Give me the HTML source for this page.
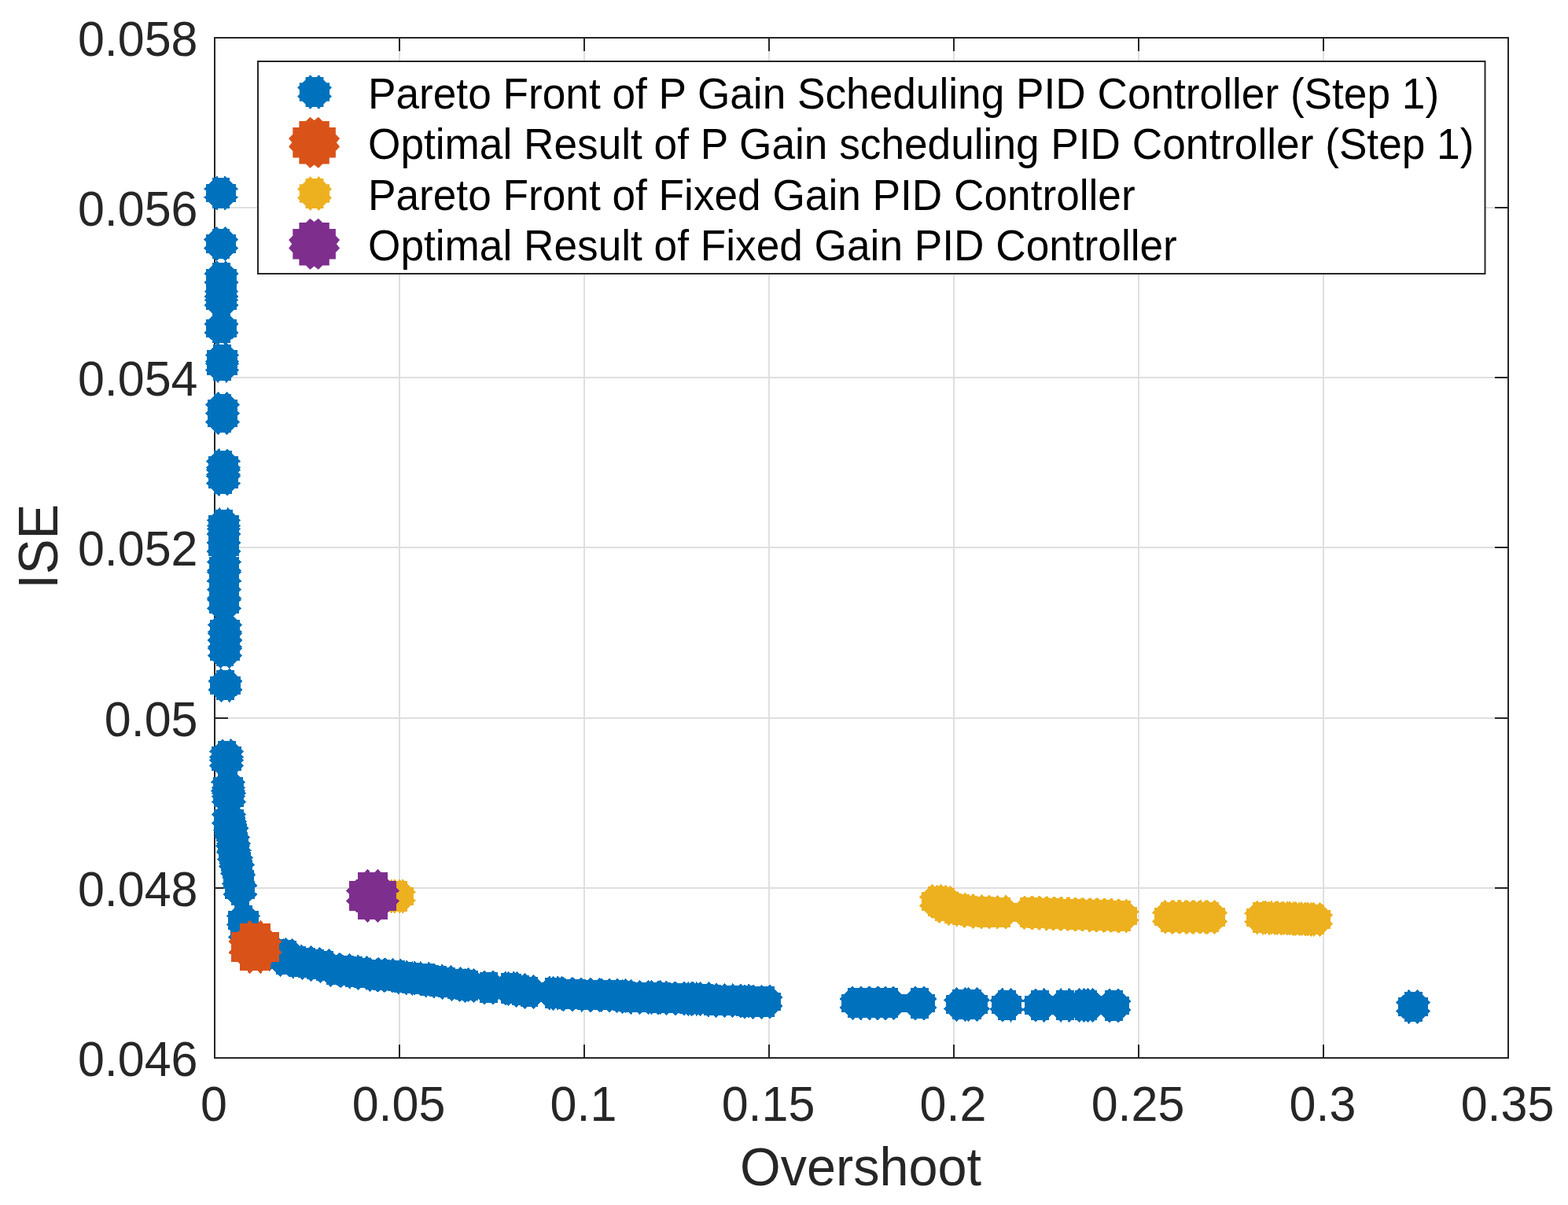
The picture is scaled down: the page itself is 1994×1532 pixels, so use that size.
<!DOCTYPE html>
<html><head><meta charset="utf-8"><title>Pareto Front</title>
<style>html,body{margin:0;padding:0;background:#fff;}svg{display:block;}</style>
</head><body>
<svg width="1994" height="1532" viewBox="0 0 1994 1532">
<defs>
<path id="ms" d="M0.00 -19.05 L2.86 -19.05 L5.28 -22.00 L7.92 -19.05 L11.44 -19.05 L11.44 -15.62 L15.40 -11.79 L19.14 -11.79 L19.14 -8.25 L22.00 -5.39 L19.14 -2.95 L19.14 0.00 L19.14 2.95 L22.00 5.39 L19.14 8.25 L19.14 11.79 L15.40 11.79 L11.44 15.62 L11.44 19.05 L7.92 19.05 L5.28 22.00 L2.86 19.05 L0.00 19.05 L-2.86 19.05 L-5.28 22.00 L-7.92 19.05 L-11.44 19.05 L-11.44 15.62 L-15.40 11.79 L-19.14 11.79 L-19.14 8.25 L-22.00 5.39 L-19.14 2.95 L-19.14 0.00 L-19.14 -2.95 L-22.00 -5.39 L-19.14 -8.25 L-19.14 -11.79 L-15.40 -11.79 L-11.44 -15.62 L-11.44 -19.05 L-7.92 -19.05 L-5.28 -22.00 L-2.86 -19.05Z"/>
<path id="ml" d="M0.00 -30.26 L3.23 -30.26 L6.63 -34.00 L10.20 -30.26 L19.31 -30.26 L19.31 -21.49 L21.76 -19.31 L30.26 -19.31 L30.26 -10.20 L34.00 -6.63 L30.26 -3.23 L30.26 0.00 L30.26 3.23 L34.00 6.63 L30.26 10.20 L30.26 19.31 L21.76 19.31 L19.31 21.49 L19.31 30.26 L10.20 30.26 L6.63 34.00 L3.23 30.26 L0.00 30.26 L-3.23 30.26 L-6.63 34.00 L-10.20 30.26 L-19.31 30.26 L-19.31 21.49 L-21.76 19.31 L-30.26 19.31 L-30.26 10.20 L-34.00 6.63 L-30.26 3.23 L-30.26 0.00 L-30.26 -3.23 L-34.00 -6.63 L-30.26 -10.20 L-30.26 -19.31 L-21.76 -19.31 L-19.31 -21.49 L-19.31 -30.26 L-10.20 -30.26 L-6.63 -34.00 L-3.23 -30.26Z"/>
<path id="mg" d="M0.00 -28.31 L5.30 -32.50 L10.60 -27.30 L19.21 -27.30 L19.21 -19.21 L27.30 -19.21 L27.30 -10.60 L32.50 -5.30 L28.31 0.00 L32.50 5.30 L27.30 10.60 L27.30 19.21 L19.21 19.21 L19.21 27.30 L10.60 27.30 L5.30 32.50 L0.00 28.31 L-5.30 32.50 L-10.60 27.30 L-19.21 27.30 L-19.21 19.21 L-27.30 19.21 L-27.30 10.60 L-32.50 5.30 L-28.31 0.00 L-32.50 -5.30 L-27.30 -10.60 L-27.30 -19.21 L-19.21 -19.21 L-19.21 -27.30 L-10.60 -27.30 L-5.30 -32.50Z"/>
</defs>
<rect x="0" y="0" width="1994" height="1532" fill="#ffffff"/>
<path d="M508.0 48.0V1345.0 M743.0 48.0V1345.0 M978.0 48.0V1345.0 M1213.0 48.0V1345.0 M1448.0 48.0V1345.0 M1683.0 48.0V1345.0 M273.0 264.0H1918.0 M273.0 480.0H1918.0 M273.0 696.0H1918.0 M273.0 913.0H1918.0 M273.0 1129.0H1918.0" stroke="#262626" stroke-opacity="0.15" stroke-width="2" fill="none" shape-rendering="crispEdges"/>
<path d="M508.0 1345.0v-17 M508.0 48.0v17 M743.0 1345.0v-17 M743.0 48.0v17 M978.0 1345.0v-17 M978.0 48.0v17 M1213.0 1345.0v-17 M1213.0 48.0v17 M1448.0 1345.0v-17 M1448.0 48.0v17 M1683.0 1345.0v-17 M1683.0 48.0v17 M273.0 264.0h17 M1918.0 264.0h-17 M273.0 480.0h17 M1918.0 480.0h-17 M273.0 696.0h17 M1918.0 696.0h-17 M273.0 913.0h17 M1918.0 913.0h-17 M273.0 1129.0h17 M1918.0 1129.0h-17" stroke="#262626" stroke-width="2" fill="none" shape-rendering="crispEdges"/>
<rect x="273.0" y="48.0" width="1645.0" height="1297.0" stroke="#262626" stroke-width="2" fill="none" shape-rendering="crispEdges"/>
<g fill="#0072BD" shape-rendering="crispEdges"><use href="#ms" x="281.0" y="245.5"/><use href="#ms" x="281.0" y="310.0"/><use href="#ms" x="281.5" y="353.5"/><use href="#ms" x="281.5" y="365.0"/><use href="#ms" x="281.5" y="376.0"/><use href="#ms" x="281.5" y="382.5"/><use href="#ms" x="281.5" y="417.4"/><use href="#ms" x="282.5" y="457.0"/><use href="#ms" x="282.5" y="465.0"/><use href="#ms" x="283.0" y="520.0"/><use href="#ms" x="283.0" y="531.0"/><use href="#ms" x="283.7" y="592.0"/><use href="#ms" x="283.7" y="600.0"/><use href="#ms" x="283.7" y="609.0"/><use href="#ms" x="284.5" y="667.0"/><use href="#ms" x="284.5" y="674.0"/><use href="#ms" x="284.5" y="684.0"/><use href="#ms" x="284.5" y="695.5"/><use href="#ms" x="285.0" y="720.0"/><use href="#ms" x="285.0" y="733.0"/><use href="#ms" x="285.0" y="744.5"/><use href="#ms" x="285.0" y="755.0"/><use href="#ms" x="285.0" y="768.0"/><use href="#ms" x="286.0" y="800.0"/><use href="#ms" x="286.0" y="809.0"/><use href="#ms" x="286.0" y="819.0"/><use href="#ms" x="286.0" y="828.0"/><use href="#ms" x="286.6" y="871.3"/><use href="#ms" x="288.3" y="961.0"/><use href="#ms" x="288.3" y="968.0"/><use href="#ms" x="290.3" y="1000.0"/><use href="#ms" x="290.5" y="1007.0"/><use href="#ms" x="291.0" y="1014.0"/><use href="#ms" x="291.0" y="1041.0"/><use href="#ms" x="292.5" y="1050.0"/><use href="#ms" x="294.6" y="1058.6"/><use href="#ms" x="296.0" y="1070.0"/><use href="#ms" x="297.0" y="1078.0"/><use href="#ms" x="297.8" y="1086.8"/><use href="#ms" x="300.0" y="1096.0"/><use href="#ms" x="302.0" y="1105.0"/><use href="#ms" x="303.5" y="1118.0"/><use href="#ms" x="305.2" y="1131.5"/><use href="#ms" x="309.5" y="1170.0"/><use href="#ms" x="312.0" y="1186.0"/><use href="#ms" x="316.0" y="1197.0"/><use href="#ms" x="348.0" y="1213.0"/><use href="#ms" x="358.0" y="1214.0"/><use href="#ms" x="362.0" y="1220.0"/><use href="#ms" x="366.0" y="1215.0"/><use href="#ms" x="378.0" y="1222.5"/><use href="#ms" x="390.0" y="1224.0"/><use href="#ms" x="401.0" y="1226.0"/><use href="#ms" x="413.0" y="1228.0"/><use href="#ms" x="426.0" y="1233.0"/><use href="#ms" x="439.0" y="1234.0"/><use href="#ms" x="450.0" y="1235.5"/><use href="#ms" x="461.0" y="1237.0"/><use href="#ms" x="476.0" y="1239.0"/><use href="#ms" x="485.0" y="1239.5"/><use href="#ms" x="494.0" y="1240.0"/><use href="#ms" x="504.0" y="1240.5"/><use href="#ms" x="512.0" y="1242.5"/><use href="#ms" x="522.0" y="1243.5"/><use href="#ms" x="529.5" y="1244.0"/><use href="#ms" x="540.0" y="1244.5"/><use href="#ms" x="547.0" y="1246.5"/><use href="#ms" x="557.0" y="1247.5"/><use href="#ms" x="568.0" y="1249.0"/><use href="#ms" x="580.0" y="1251.0"/><use href="#ms" x="590.0" y="1252.0"/><use href="#ms" x="597.0" y="1253.0"/><use href="#ms" x="621.5" y="1255.5"/><use href="#ms" x="648.0" y="1256.5"/><use href="#ms" x="652.0" y="1257.0"/><use href="#ms" x="662.0" y="1259.0"/><use href="#ms" x="673.0" y="1261.0"/><use href="#ms" x="704.0" y="1262.5"/><use href="#ms" x="709.0" y="1263.0"/><use href="#ms" x="722.0" y="1264.0"/><use href="#ms" x="734.0" y="1264.3"/><use href="#ms" x="745.0" y="1264.8"/><use href="#ms" x="757.0" y="1265.0"/><use href="#ms" x="770.0" y="1265.3"/><use href="#ms" x="780.0" y="1265.3"/><use href="#ms" x="790.0" y="1266.0"/><use href="#ms" x="797.0" y="1267.0"/><use href="#ms" x="807.7" y="1268.0"/><use href="#ms" x="819.0" y="1268.0"/><use href="#ms" x="834.0" y="1268.0"/><use href="#ms" x="842.0" y="1268.5"/><use href="#ms" x="853.0" y="1269.3"/><use href="#ms" x="864.6" y="1269.3"/><use href="#ms" x="875.5" y="1269.5"/><use href="#ms" x="880.5" y="1270.0"/><use href="#ms" x="885.0" y="1270.0"/><use href="#ms" x="896.0" y="1270.0"/><use href="#ms" x="906.0" y="1271.5"/><use href="#ms" x="916.0" y="1272.0"/><use href="#ms" x="926.5" y="1272.0"/><use href="#ms" x="937.0" y="1272.3"/><use href="#ms" x="947.0" y="1272.5"/><use href="#ms" x="952.5" y="1273.5"/><use href="#ms" x="963.0" y="1274.0"/><use href="#ms" x="973.8" y="1273.5"/><use href="#ms" x="1089.6" y="1275.3"/><use href="#ms" x="1100.0" y="1275.3"/><use href="#ms" x="1111.5" y="1275.3"/><use href="#ms" x="1121.0" y="1275.3"/><use href="#ms" x="1131.0" y="1275.3"/><use href="#ms" x="1169.5" y="1275.5"/><use href="#ms" x="1222.0" y="1277.0"/><use href="#ms" x="1237.0" y="1277.0"/><use href="#ms" x="1280.2" y="1277.6"/><use href="#ms" x="1322.3" y="1278.0"/><use href="#ms" x="1354.4" y="1278.0"/><use href="#ms" x="1378.0" y="1278.0"/><use href="#ms" x="1384.0" y="1278.0"/><use href="#ms" x="1416.5" y="1278.5"/><use href="#ms" x="1797.1" y="1280.0"/></g>
<g fill="#D95319" shape-rendering="crispEdges"><use href="#ml" x="324.5" y="1204.0"/></g>
<g fill="#EDB120" shape-rendering="crispEdges"><use href="#ms" x="503.0" y="1139.5"/><use href="#ms" x="507.0" y="1139.5"/><use href="#ms" x="1191.0" y="1146.0"/><use href="#ms" x="1197.0" y="1147.0"/><use href="#ms" x="1203.0" y="1148.0"/><use href="#ms" x="1200.0" y="1152.0"/><use href="#ms" x="1212.0" y="1155.0"/><use href="#ms" x="1222.0" y="1156.5"/><use href="#ms" x="1232.0" y="1158.0"/><use href="#ms" x="1243.0" y="1159.0"/><use href="#ms" x="1253.0" y="1159.5"/><use href="#ms" x="1263.0" y="1159.6"/><use href="#ms" x="1273.7" y="1159.6"/><use href="#ms" x="1308.0" y="1160.3"/><use href="#ms" x="1317.2" y="1160.6"/><use href="#ms" x="1326.3" y="1160.9"/><use href="#ms" x="1335.5" y="1161.3"/><use href="#ms" x="1344.6" y="1161.6"/><use href="#ms" x="1353.8" y="1161.9"/><use href="#ms" x="1362.9" y="1162.2"/><use href="#ms" x="1372.1" y="1162.6"/><use href="#ms" x="1381.2" y="1162.9"/><use href="#ms" x="1390.4" y="1163.2"/><use href="#ms" x="1399.5" y="1163.5"/><use href="#ms" x="1408.7" y="1163.9"/><use href="#ms" x="1417.8" y="1164.2"/><use href="#ms" x="1427.0" y="1164.5"/><use href="#ms" x="1487.0" y="1165.7"/><use href="#ms" x="1495.7" y="1165.8"/><use href="#ms" x="1504.3" y="1165.8"/><use href="#ms" x="1513.0" y="1165.8"/><use href="#ms" x="1521.7" y="1165.9"/><use href="#ms" x="1530.3" y="1166.0"/><use href="#ms" x="1539.0" y="1166.0"/><use href="#ms" x="1604.0" y="1166.5"/><use href="#ms" x="1611.7" y="1166.8"/><use href="#ms" x="1619.3" y="1167.1"/><use href="#ms" x="1627.0" y="1167.3"/><use href="#ms" x="1634.7" y="1167.6"/><use href="#ms" x="1642.3" y="1167.9"/><use href="#ms" x="1650.0" y="1168.2"/><use href="#ms" x="1657.7" y="1168.4"/><use href="#ms" x="1665.3" y="1168.7"/><use href="#ms" x="1673.0" y="1169.0"/></g>
<g fill="#7E2F8E" shape-rendering="crispEdges"><use href="#ml" x="473.9" y="1139.0"/></g>
<g font-family="'Liberation Sans', Arial, Helvetica, sans-serif" font-size="61.0" fill="#262626">
<text transform="translate(272.0 1425) scale(1 1.035)" text-anchor="middle">0</text>
<text transform="translate(507.0 1425) scale(1 1.035)" text-anchor="middle">0.05</text>
<text transform="translate(742.0 1425) scale(1 1.035)" text-anchor="middle">0.1</text>
<text transform="translate(977.0 1425) scale(1 1.035)" text-anchor="middle">0.15</text>
<text transform="translate(1212.0 1425) scale(1 1.035)" text-anchor="middle">0.2</text>
<text transform="translate(1447.0 1425) scale(1 1.035)" text-anchor="middle">0.25</text>
<text transform="translate(1682.0 1425) scale(1 1.035)" text-anchor="middle">0.3</text>
<text transform="translate(1917.0 1425) scale(1 1.035)" text-anchor="middle">0.35</text>
<text transform="translate(251.5 70.7) scale(1 1.035)" text-anchor="end">0.058</text>
<text transform="translate(251.5 286.7) scale(1 1.035)" text-anchor="end">0.056</text>
<text transform="translate(251.5 502.7) scale(1 1.035)" text-anchor="end">0.054</text>
<text transform="translate(251.5 718.7) scale(1 1.035)" text-anchor="end">0.052</text>
<text transform="translate(251.5 935.7) scale(1 1.035)" text-anchor="end">0.05</text>
<text transform="translate(251.5 1151.7) scale(1 1.035)" text-anchor="end">0.048</text>
<text transform="translate(251.5 1367.7) scale(1 1.035)" text-anchor="end">0.046</text>
</g>
<text transform="translate(1094.5 1507) scale(0.993 1.03)" text-anchor="middle" font-family="'Liberation Sans', Arial, Helvetica, sans-serif" font-size="67" fill="#262626">Overshoot</text>
<text transform="translate(73.3 694.7) rotate(-90) scale(1 1.045)" text-anchor="middle" font-family="'Liberation Sans', Arial, Helvetica, sans-serif" font-size="67" fill="#262626">ISE</text>
<rect x="328.0" y="78.0" width="1560.5" height="270.0" fill="#ffffff" stroke="#262626" stroke-width="2"/>
<use href="#ms" x="400.0" y="117.0" fill="#0072BD"/>
<use href="#mg" x="399.6" y="181.3" fill="#D95319"/>
<use href="#ms" x="400.0" y="246.0" fill="#EDB120"/>
<use href="#mg" x="399.6" y="310.3" fill="#7E2F8E"/>
<text transform="translate(468 137.9) scale(1 1.03)" font-family="'Liberation Sans', Arial, Helvetica, sans-serif" font-size="53.2" fill="#000000">Pareto Front of P Gain Scheduling PID Controller (Step 1)</text>
<text transform="translate(468 202.3) scale(1 1.03)" font-family="'Liberation Sans', Arial, Helvetica, sans-serif" font-size="53.2" fill="#000000">Optimal Result of P Gain scheduling PID Controller (Step 1)</text>
<text transform="translate(468 266.7) scale(1 1.03)" font-family="'Liberation Sans', Arial, Helvetica, sans-serif" font-size="53.2" fill="#000000">Pareto Front of Fixed Gain PID Controller</text>
<text transform="translate(468 331.1) scale(1 1.03)" font-family="'Liberation Sans', Arial, Helvetica, sans-serif" font-size="53.2" fill="#000000">Optimal Result of Fixed Gain PID Controller</text>
</svg>
</body></html>
